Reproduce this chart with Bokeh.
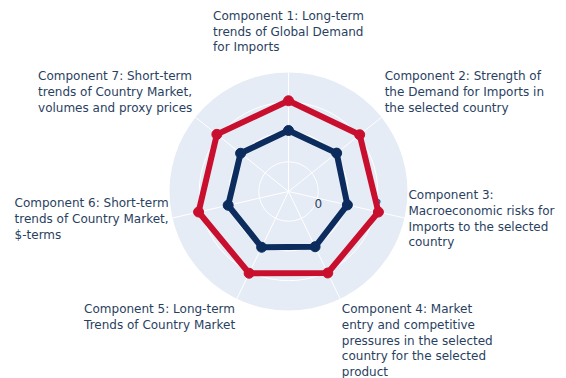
import numpy as np
from bokeh.plotting import figure
from bokeh.models import Range1d
from bokeh.core.properties import value
from bokeh.embed import file_html
from bokeh.resources import INLINE

# ---- data ----
categories = [
    "Component 1: Long-term\ntrends of Global Demand\nfor Imports",
    "Component 2: Strength of\nthe Demand for Imports in\nthe selected country",
    "Component 3:\nMacroeconomic risks for\nImports to the selected\ncountry",
    "Component 4: Market\nentry and competitive\npressures in the selected\ncountry for the selected\nproduct",
    "Component 5: Long-term\nTrends of Country Market",
    "Component 6: Short-term\ntrends of Country Market,\n$-terms",
    "Component 7: Short-term\ntrends of Country Market,\nvolumes and proxy prices",
]
series_blue = [1.05, 1.07, 1.03, 1.06, 1.08, 1.08, 1.06]
series_red = [2.05, 2.06, 2.10, 2.04, 2.05, 2.10, 2.08]
radial_ticks = [0, 1, 2]
radial_tick_labels = ["0", "1", "2"]
radial_range = [-1, 3]

# ---- style / layout ----
W, H = 566, 378
CX, CY = 288, 187          # polar centre inside the frame (pixels from left / bottom)
R_OUT = 119                # outer radius in pixels
TEXT_COLOR = "#2a3f5f"
FONT = value("DejaVu Sans")
RED = "#c8102e"
BLUE = "#0c2c5e"

p = figure(width=W, height=H, output_backend="svg", toolbar_location=None,
           x_range=Range1d(-CX, W - CX), y_range=Range1d(-CY, H - CY),
           min_border=0, outline_line_color=None, background_fill_color="white")
p.axis.visible = False
p.grid.visible = False


def rpx(v):
    return (np.asarray(v, dtype=float) - radial_range[0]) / (radial_range[1] - radial_range[0]) * R_OUT


n = len(categories)
theta = np.deg2rad(90 - np.arange(n) * 360.0 / n)

# background disk
p.circle(x=[0], y=[0], radius=R_OUT, fill_color="#e5ecf6", line_color=None)
# radial grid circles
p.circle(x=[0] * len(radial_ticks), y=[0] * len(radial_ticks), radius=rpx(radial_ticks),
         fill_color=None, line_color="white", line_width=1)
# angular grid spokes
p.segment(x0=np.zeros(n), y0=np.zeros(n), x1=R_OUT * np.cos(theta), y1=R_OUT * np.sin(theta),
          line_color="white", line_width=1)

# radial tick labels (along angle 0, just below)
p.text(x=rpx(radial_ticks), y=[-12] * len(radial_ticks), text=radial_tick_labels,
       text_font=FONT, text_font_size="12px", text_color=TEXT_COLOR,
       text_align="center", text_baseline="middle")

# traces
for vals, col in ((series_blue, BLUE), (series_red, RED)):
    r = rpx(vals)
    xs = r * np.cos(theta)
    ys = r * np.sin(theta)
    p.line(x=list(xs) + [xs[0]], y=list(ys) + [ys[0]], line_color=col, line_width=6,
           line_join="round")
    p.scatter(x=xs, y=ys, size=10, fill_color=col, line_color=col)

# angular tick labels
pad = 4
for t, txt in zip(theta, categories):
    c, s = np.cos(t), np.sin(t)
    h = "left" if c > 0.2 else ("right" if c < -0.2 else "center")
    v = "bottom" if s > 0.5 else ("top" if s < -0.5 else "center")
    x = (R_OUT + pad) * c
    y = (R_OUT + pad) * s
    if s > 0.95:
        y += 14
    anc = "center" if (v == "center" and h == "center") else f"{v}_{h}"
    p.text(x=[x], y=[y], text=[txt], anchor=anc, text_align="left",
           text_font=FONT, text_font_size="12px", text_color=TEXT_COLOR,
           text_line_height=1.12)

open("out.html", "w").write(file_html(p, INLINE))
